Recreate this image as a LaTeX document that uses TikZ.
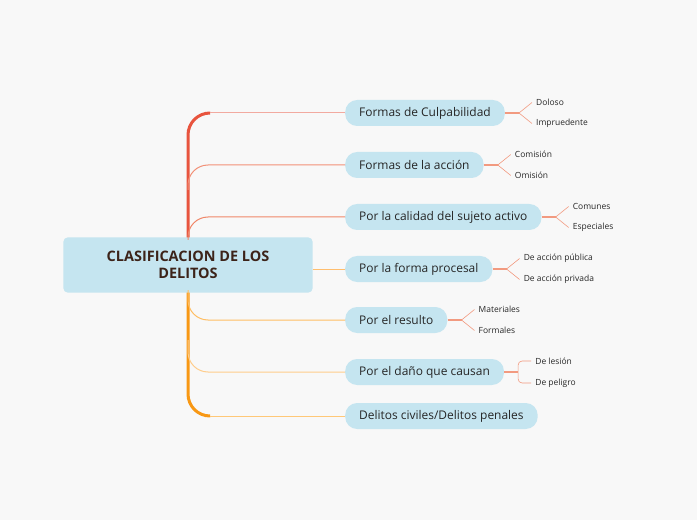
\documentclass[tikz,border=0pt]{standalone}
\usepackage{fontspec}
\setmainfont{Open Sans}
\begin{document}
\begin{tikzpicture}[x=1bp,y=-1bp,
  pill/.style={fill=pillc,rounded corners=12bp,minimum height=26bp,inner xsep=14bp,anchor=west,font=\fontsize{12}{14}\selectfont,text=black!85},
  leaf/.style={anchor=west,font=\fontsize{8.5}{10}\selectfont,inner sep=1bp,text=black!85},
  sub/.style={draw=subc,line width=0.6bp},
  stub/.style={draw=subc,line width=1.4bp}]
\definecolor{pillc}{HTML}{C5E5F0}
\definecolor{subc}{HTML}{F29A80}
\definecolor{bgc}{HTML}{F8F8F8}
\fill[bgc] (0,0) rectangle (697,520);
\useasboundingbox (0,0) rectangle (697,520);
% spine
\draw[line width=3bp,draw={rgb,255:red,232;green,84;blue,62},rounded corners=22bp] (210,113) -- (188,113) -- (188,240);
\draw[line width=3bp,draw={rgb,255:red,248;green,152;blue,20},rounded corners=22bp] (188,290) -- (188,416) -- (210,416);
% main node
\node[fill=pillc,rounded corners=4bp,minimum width=249bp,minimum height=55bp,align=center,font=\bfseries\fontsize{14.5}{17}\selectfont,text={rgb,255:red,60;green,35;blue,25}] (root) at (188,265) {CLASIFICACION DE LOS\\DELITOS};
% children
\node[pill] (c1) at (345,113) {Formas de Culpabilidad};
\node[pill] (c2) at (345,165) {Formas de la acción};
\node[pill] (c3) at (345,217) {Por la calidad del sujeto activo};
\node[pill] (c4) at (345,269) {Por la forma procesal};
\node[pill] (c5) at (345,320) {Por el resulto};
\node[pill] (c6) at (345,372) {Por el daño que causan};
\node[pill] (c7) at (345,416) {Delitos civiles/Delitos penales};
% connectors
\draw[line width=1bp,draw={rgb,255:red,242;green,170;blue,160}] (210,113) -- (c1.west);
\draw[line width=1bp,draw={rgb,255:red,242;green,145;blue,120},rounded corners=20bp] (188,190) -- (188,165) -- (c2.west);
\draw[line width=1bp,draw={rgb,255:red,240;green,135;blue,105},rounded corners=20bp] (188,240) -- (188,217) -- (c3.west);
\draw[line width=1bp,draw={rgb,255:red,255;green,190;blue,110}] (root.east |- c4.west) -- (c4.west);
\draw[line width=1bp,draw={rgb,255:red,255;green,190;blue,100},rounded corners=20bp] (188,290) -- (188,320) -- (c5.west);
\draw[line width=1bp,draw={rgb,255:red,255;green,205;blue,140},rounded corners=20bp] (188,340) -- (188,372) -- (c6.west);
\draw[line width=1bp,draw={rgb,255:red,255;green,200;blue,120}] (210,416) -- (c7.west);
% leaves
\foreach \c/\a/\b in {c1/Doloso/Impruedente,c2/Comisión/Omisión,c3/Comunes/Especiales,c4/De acción pública/De acción privada,c5/Materiales/Formales}{
  \coordinate (\c s) at ([xshift=14bp]\c.east);
  \node[leaf] (\c a) at ([xshift=30bp,yshift=10.5bp]\c.east) {\a};
  \node[leaf] (\c b) at ([xshift=30bp,yshift=-10.5bp]\c.east) {\b};
  \draw[stub] (\c.east) -- (\c s);
  \draw[sub] (\c s) -- ([xshift=-3bp]\c a.west);
  \draw[sub] (\c s) -- ([xshift=-3bp]\c b.west);
}
\coordinate (c6s) at ([xshift=14bp]c6.east);
\node[leaf] (c6a) at ([xshift=30bp,yshift=11bp]c6.east) {De lesión};
\node[leaf] (c6b) at ([xshift=30bp,yshift=-11bp]c6.east) {De peligro};
\draw[stub] (c6.east) -- (c6s);
\draw[sub,rounded corners=4bp] ([xshift=-3bp]c6a.west) -- (c6s |- c6a.west) -- (c6s |- c6b.west) -- ([xshift=-3bp]c6b.west);
\end{tikzpicture}
\end{document}
